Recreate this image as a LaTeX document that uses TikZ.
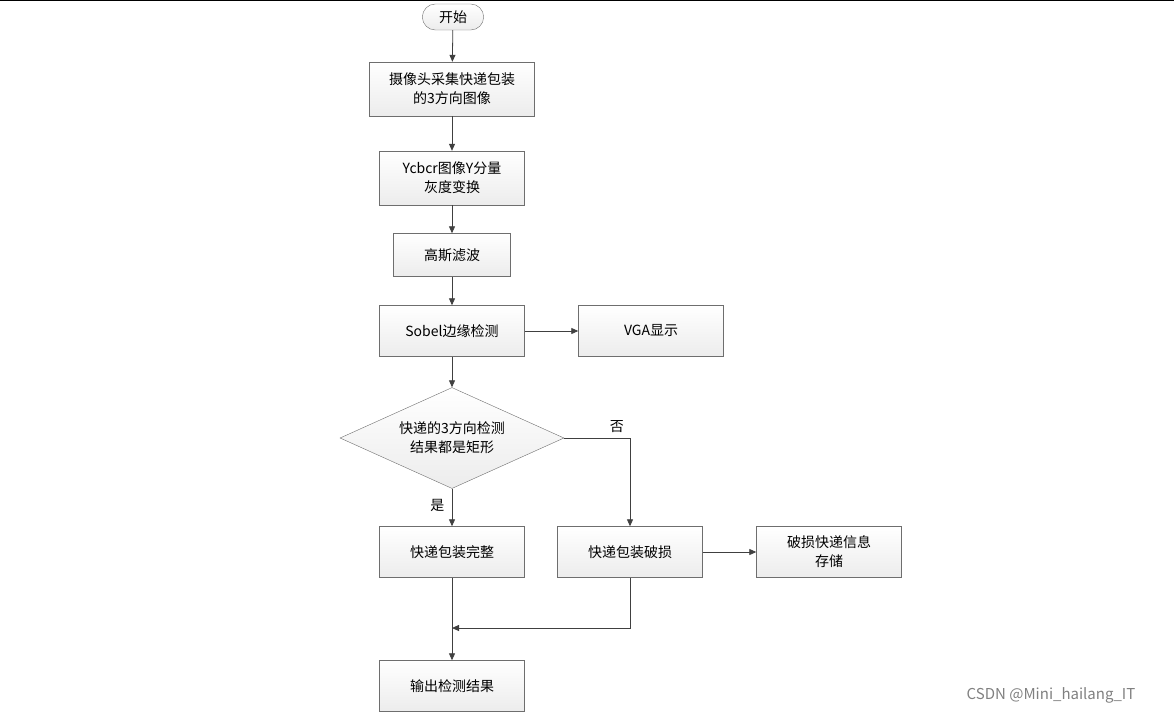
\documentclass[tikz,border=0pt]{standalone}
\usepackage{fontspec}
\setmainfont{Liberation Sans}
\newfontfamily\cjk{Noto Sans CJK SC}
\usetikzlibrary{shapes.geometric,shapes.misc,arrows.meta,positioning}
\definecolor{edgegray}{RGB}{110,110,110}
\definecolor{fillgray}{RGB}{236,236,236}
\tikzset{
  box/.style={draw=edgegray,top color=white,bottom color=fillgray,
    minimum width=145pt,minimum height=51pt,align=center,font=\cjk\fontsize{14}{19}\selectfont},
  flow/.style={draw=black!75,thick,-{Triangle[length=7pt,width=6pt]}},
}
\begin{document}
\begin{tikzpicture}[x=1pt,y=-1pt]
  \useasboundingbox (0,0) rectangle (1174,716);
  \draw[black,thick] (0,0.5) -- (1174,0.5);

  \node[box,rounded rectangle,minimum width=68pt,minimum height=26pt] (start) at (453,17) {开始};
  \node[box,minimum width=165pt,minimum height=54pt] (capture) at (452,89) {摄像头采集快递包装\\的3方向图像};
  \node[box,minimum height=54pt] (gray) at (452,178) {Ycbcr图像Y分量\\灰度变换};
  \node[box,minimum width=117pt,minimum height=43pt] (gauss) at (452,255) {高斯滤波};
  \node[box] (sobel) at (452,331) {Sobel边缘检测};
  \node[box] (vga) at (651,331) {VGA显示};
  \node[box,diamond,aspect=2.2,minimum width=224pt,minimum height=101pt,inner sep=0pt] (check) at (452,438) {快递的3方向检测\\结果都是矩形};
  \node[box] (intact) at (452,552) {快递包装完整};
  \node[box] (broken) at (630,552) {快递包装破损};
  \node[box] (store) at (829,552) {破损快递信息\\存储};
  \node[box] (result) at (452,686) {输出检测结果};
  \coordinate (merge) at (452,628);

  \draw[flow] (start) -- (capture);
  \draw[flow] (capture) -- (gray);
  \draw[flow] (gray) -- (gauss);
  \draw[flow] (gauss) -- (sobel);
  \draw[flow] (sobel) -- (vga);
  \draw[flow] (sobel) -- (check);
  \draw[flow] (check) -- node[pos=0.45,left=4pt,font=\cjk\fontsize{14}{16}\selectfont] {是} (intact);
  \draw[flow] (check.east) -| node[pos=0.4,above=2pt,font=\cjk\fontsize{14}{16}\selectfont] {否} (broken);
  \draw[flow] (broken) -- (store);
  \draw[flow] (intact) -- (result);
  \draw[flow] (broken.south) |- (merge);

  \node[text=gray,font=\cjk\fontsize{15}{18}\selectfont] (mark) at (1051,695) {CSDN @Mini\_hailang\_IT};
\end{tikzpicture}
\end{document}
